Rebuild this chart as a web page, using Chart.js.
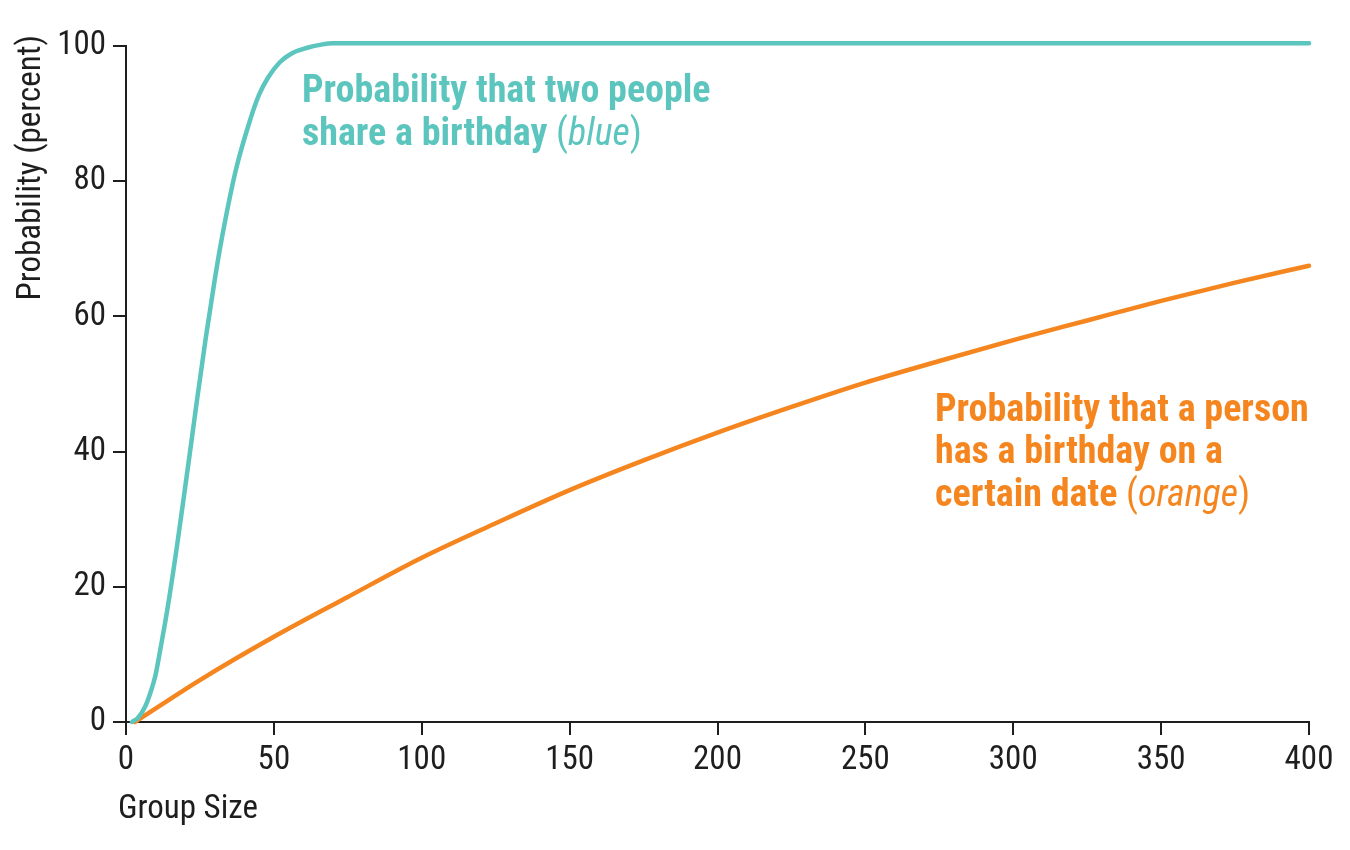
<!DOCTYPE html>
<html>
<head>
<meta charset="utf-8">
<script src="https://cdn.jsdelivr.net/npm/chart.js@4/dist/chart.umd.min.js"></script>
<style>
  html, body { margin: 0; padding: 0; background: #ffffff; }
  #wrap { position: relative; width: 1350px; height: 850px; }
</style>
</head>
<body>
<div id="wrap"><canvas id="c" width="1350" height="850"></canvas></div>
<script>
// ---- Data ----
const sharedGroupSizes = [2, 4, 6.5, 8, 10, 12, 14, 17, 20, 22, 24, 27, 30, 32, 37, 42, 45, 48, 52, 56, 61, 66, 70, 400];
const sharedProbability = [0, 0.6, 2.3, 4.0, 7.0, 11.7, 16.7, 25.3, 34.7, 41.1, 47.6, 56.9, 65.4, 70.6, 81.4, 89.1, 92.8, 95.3, 97.6, 98.9, 99.7, 100.2, 100.4, 100.4];

const dateGroupSizes = [3, 25, 50, 75, 100, 125, 150, 175, 200, 225, 250, 275, 300, 325, 350, 375, 400];
const dateProbability = [0, 6.2, 12.6, 18.5, 24.3, 29.4, 34.3, 38.7, 42.8, 46.6, 50.2, 53.4, 56.5, 59.4, 62.3, 65.0, 67.5];

const xTicks = [0, 50, 100, 150, 200, 250, 300, 350, 400];
const yTicks = [0, 20, 40, 60, 80, 100];

const TEAL = '#5bc5be';
const ORANGE = '#f5861f';
const INK = '#1e1e1e';
const FONT = "'Liberation Sans Narrow', 'Roboto Condensed', 'DejaVu Sans Condensed', 'Roboto', sans-serif";

function toPoints(xs, ys) { return xs.map((x, i) => ({ x: x, y: ys[i] })); }

const annotations = {
  id: 'annotations',
  afterDatasetsDraw(chart) {
    const ctx = chart.ctx;
    ctx.save();
    ctx.textBaseline = 'alphabetic';
    ctx.textAlign = 'left';

    function drawRuns(x, y, runs, color) {
      let cx = x;
      for (const r of runs) {
        ctx.font = r.font;
        ctx.fillStyle = color;
        ctx.fillText(r.t, cx, y);
        cx += ctx.measureText(r.t).width;
      }
    }
    const B = 'bold 38px ' + FONT;
    const R = '38px ' + FONT;
    const I = 'italic 38px ' + FONT;

    drawRuns(302, 102, [{ t: 'Probability that two people', font: B }], TEAL);
    drawRuns(302, 145, [{ t: 'share a birthday ', font: B }, { t: '(', font: R }, { t: 'blue', font: I }, { t: ')', font: R }], TEAL);

    drawRuns(935, 421, [{ t: 'Probability that a person', font: B }], ORANGE);
    drawRuns(935, 463, [{ t: 'has a birthday on a', font: B }], ORANGE);
    drawRuns(935, 506, [{ t: 'certain date ', font: B }, { t: '(', font: R }, { t: 'orange', font: I }, { t: ')', font: R }], ORANGE);

    // axis titles
    ctx.fillStyle = INK;
    ctx.font = '33px ' + FONT;
    ctx.fillText('Group Size', 118, 818);
    ctx.translate(40, 35);
    ctx.rotate(-Math.PI / 2);
    ctx.textAlign = 'right';
    ctx.fillText('Probability (percent)', 0, 0);
    ctx.restore();
  }
};

new Chart(document.getElementById('c'), {
  type: 'line',
  data: {
    datasets: [
      {
        label: 'Probability that two people share a birthday',
        data: toPoints(sharedGroupSizes, sharedProbability),
        borderColor: TEAL,
        borderWidth: 4.5,
        pointRadius: 0,
        cubicInterpolationMode: 'monotone',
        fill: false,
        clip: 10,
        borderCapStyle: 'round'
      },
      {
        label: 'Probability that a person has a birthday on a certain date',
        data: toPoints(dateGroupSizes, dateProbability),
        borderColor: ORANGE,
        borderWidth: 4.5,
        pointRadius: 0,
        cubicInterpolationMode: 'monotone',
        fill: false,
        clip: 10,
        borderCapStyle: 'round'
      }
    ]
  },
  options: {
    responsive: false,
    animation: false,
    devicePixelRatio: 1,
    layout: { padding: { left: 0, right: 41, top: 46, bottom: 0 } },
    plugins: { legend: { display: false }, tooltip: { enabled: false } },
    scales: {
      x: {
        type: 'linear',
        min: 0, max: 400,
        afterBuildTicks(s) { s.ticks = xTicks.map(v => ({ value: v })); },
        afterFit(s) { s.height = 128; },
        grid: { display: true, drawOnChartArea: false, drawTicks: true, tickLength: 13, color: INK, lineWidth: 2 },
        border: { display: true, color: INK, width: 2 },
        ticks: { color: INK, padding: 6, font: { family: FONT, size: 33 }, maxRotation: 0 }
      },
      y: {
        type: 'linear',
        min: 0, max: 100,
        afterBuildTicks(s) { s.ticks = yTicks.map(v => ({ value: v })); },
        afterFit(s) { s.width = 126; },
        grid: { display: true, drawOnChartArea: false, drawTicks: true, tickLength: 13, color: INK, lineWidth: 2 },
        border: { display: true, color: INK, width: 2 },
        ticks: { color: INK, padding: 7, font: { family: FONT, size: 33 } }
      }
    }
  },
  plugins: [annotations]
});
</script>
</body>
</html>
